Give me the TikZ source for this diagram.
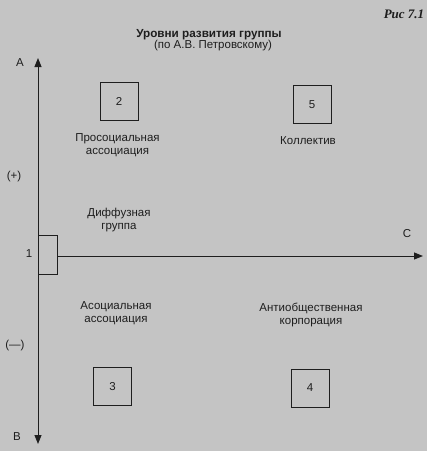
\documentclass[tikz,border=0pt]{standalone}
\usepackage{fontspec}
\setmainfont{Liberation Sans}
\newfontfamily\figfont{Liberation Serif}
\usetikzlibrary{arrows.meta}
\definecolor{bg}{RGB}{196,196,196}
\definecolor{ink}{RGB}{30,30,30}
\begin{document}
\begin{tikzpicture}[x=1pt,y=-1pt,
  numbox/.style={draw=ink,line width=1pt,minimum width=38pt,minimum height=38pt,inner sep=0pt,font=\fontsize{11.5}{12}\selectfont,text=ink},
  lbl/.style={font=\fontsize{11.5}{13}\selectfont,text=ink,align=center,inner sep=0pt},
  axis/.style={draw=ink,line width=1pt},
  tip/.style={-{Triangle[length=9pt,width=7pt]}}]
\fill[bg] (0,0) rectangle (427,451);
\useasboundingbox (0,0) rectangle (427,451);
% title
\node[lbl,font=\fontsize{11.7}{12}\selectfont\bfseries] (title) at (209,35) {Уровни развития группы};
\node[lbl] (subtitle) at (213,46) {(по А.В. Петровскому)};
\node[lbl,font=\fontsize{13}{14}\figfont\bfseries\itshape] (fig) at (404,14) {Рис 7.1};
% axes
\coordinate (atop) at (38,58);
\coordinate (abot) at (38,444);
\node[numbox,minimum width=19pt,minimum height=39pt] (b1) at (47.5,254.5) {};
\coordinate (cend) at (423,256);
\draw[axis,tip] (38,254.5) -- (atop);
\draw[axis,tip] (38,254.5) -- (abot);
\draw[axis,tip] (b1.east |- cend) -- (cend);
\node[lbl] (A) at (20,63) {A};
\node[lbl] (B) at (17,437) {B};
\node[lbl] (C) at (407,234) {C};
\node[lbl] (n1) at (29,254) {1};
\node[lbl] (plus) at (14,177) {(+)};
\node[lbl] (minus) at (15,346) {(—)};
% boxes
\node[numbox] (b2) at (119,101.5) {2};
\node[numbox] (b5) at (312,104.5) {5};
\node[numbox] (b3) at (112.5,386.5) {3};
\node[numbox] (b4) at (310,388) {4};
% labels
\node[lbl] (l2) at (117.5,145) {Просоциальная\\ассоциация};
\node[lbl] (l5) at (308,141) {Коллектив};
\node[lbl] (l1) at (119,220) {Диффузная\\группа};
\node[lbl] (l3) at (116,313) {Асоциальная\\ассоциация};
\node[lbl] (l4) at (311,315) {Антиобщественная\\корпорация};
\end{tikzpicture}
\end{document}
